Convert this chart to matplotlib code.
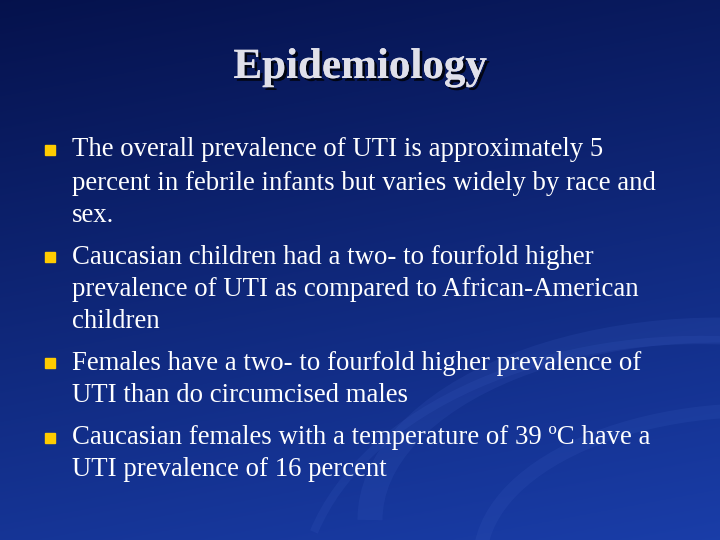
import numpy as np
import matplotlib
matplotlib.use("Agg")
import matplotlib.pyplot as plt
import matplotlib.patheffects as pe
from matplotlib.patches import Arc

title = "Epidemiology"
bullets = [
    ["The overall prevalence of UTI is approximately 5",
     "percent in febrile infants but varies widely by race and",
     "sex."],
    ["Caucasian children had a two- to fourfold higher",
     "prevalence of UTI as compared to African-American",
     "children"],
    ["Females have a two- to fourfold higher prevalence of",
     "UTI than do circumcised males"],
    ["Caucasian females with a temperature of 39 ºC have a",
     "UTI prevalence of 16 percent"],
]
line_y = [[150, 183, 215], [257, 289, 322], [363, 396], [438, 470]]

W, H = 720, 540
fig = plt.figure(figsize=(7.2, 5.4), dpi=100)
ax = fig.add_axes([0, 0, 1, 1])
ax.set_xlim(0, W); ax.set_ylim(H, 0); ax.axis("off")

yy = np.linspace(0, 1, 300)[:, None]
xx = np.linspace(0, 1, 400)[None, :]
t = np.clip(yy * 0.8 + xx * 0.2, 0, 1)
top = np.array([0.02, 0.07, 0.30]); bot = np.array([0.10, 0.24, 0.66])
img = top + (bot - top) * t[..., None]
ax.imshow(img, extent=[0, W, H, 0], aspect="auto", zorder=0)

for (cx, cy, w, h, a1, a2, lw) in [(720, 520, 700, 380, 180, 300, 18),
                                    (760, 560, 560, 300, 180, 290, 10),
                                    (700, 600, 800, 520, 190, 280, 6)]:
    ax.add_patch(Arc((cx, cy), w, h, theta1=a1, theta2=a2, color="#3a5cc0",
                     lw=lw, alpha=0.18, zorder=1))

serif = ["Liberation Serif", "DejaVu Serif"]
ax.text(W / 2, 68, title, ha="center", va="center", fontsize=31, fontweight="bold",
        color="#e0e0ea", family=serif, zorder=3,
        path_effects=[pe.withSimplePatchShadow(offset=(2, -2), shadow_rgbFace="black", alpha=0.8),
                      pe.Normal()])

for lines, ys in zip(bullets, line_y):
    ax.add_patch(plt.Rectangle((45, ys[0] - 5), 10, 10, color="#ffcc00", zorder=3))
    for ln, y in zip(lines, ys):
        ax.text(72, y, ln, ha="left", va="center", fontsize=19.3, color="white",
                family=serif, zorder=3)

fig.savefig("out.png", dpi=100)
